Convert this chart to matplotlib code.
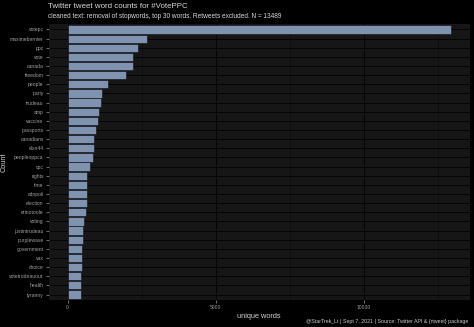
import matplotlib
matplotlib.use("Agg")
import matplotlib.pyplot as plt
from matplotlib.ticker import FixedLocator

words = ["votepc", "maximebernier", "ppc", "vote", "canada", "freedom", "people", "party",
         "trudeau", "amp", "vaccine", "passports", "canadians", "elxn44", "peopleoppca", "cpc",
         "rights", "time", "cdnpoli", "election", "erinotoole", "voting", "justintrudeau",
         "purplewave", "government", "vax", "choice", "votetrudeauout", "health", "tyranny"]
counts = [12930, 2663, 2370, 2212, 2190, 1976, 1370, 1146, 1123, 1066, 1011, 954, 898, 877,
          865, 752, 662, 662, 640, 640, 617, 561, 516, 516, 494, 494, 482, 460, 460, 438]
x_ticks = [0, 5000, 10000]

plt.rcParams['font.family'] = ['Liberation Sans', 'DejaVu Sans']

W, H = 474, 327
fig = plt.figure(figsize=(W / 100, H / 100), dpi=100, facecolor='black')
left, right, top, bottom = 48.5, 470, 24, 300
ax = fig.add_axes([left / W, (H - bottom) / H, (right - left) / W, (bottom - top) / H])
ax.set_facecolor('#161616')

n = len(words)
ypos = list(range(n))[::-1]
ax.barh(ypos, counts, height=0.9, color='#7f92b0', edgecolor='#0d0d0d', linewidth=0.4, zorder=3)

xmax = max(counts)
ax.set_xlim(-0.05 * xmax, 1.05 * xmax)
ax.set_ylim(-0.6, n - 1 + 0.6)
ax.set_yticks(ypos)
ax.set_yticklabels(words)
ax.xaxis.set_major_locator(FixedLocator(x_ticks))
ax.xaxis.set_minor_locator(FixedLocator([2500, 7500, 12500]))
ax.grid(True, which='major', axis='both', color='#050505', linewidth=0.7, zorder=0)
ax.grid(True, which='minor', axis='x', color='#0a0a0a', linewidth=0.4, zorder=0)
for s in ax.spines.values():
    s.set_visible(False)
ax.tick_params(axis='both', which='major', colors='#9a9a9a', labelcolor='#a0a0a0',
               labelsize=3.6, length=2, width=0.5, pad=1.5)
ax.tick_params(axis='both', which='minor', length=0)

ax.set_xlabel('unique words', color='#d0d0d0', fontsize=5.3)
ax.xaxis.set_label_coords(0.5, -(313 - bottom) / (bottom - top))
ax.set_ylabel('Count', color='#d0d0d0', fontsize=5.3)
ax.yaxis.set_label_coords(-(left - 8) / (right - left), 0.5)

fig.text(left / W, 1 - 6.5 / H, 'Twitter tweet word counts for #VotePPC', color='#d8d8d8',
         fontsize=5.7, ha='left', va='center')
fig.text(left / W, 1 - 16.5 / H,
         'cleaned text: removal of stopwords, top 30 words. Retweets excluded. N = 13489',
         color='#d8d8d8', fontsize=4.7, ha='left', va='center')
fig.text(468 / W, 1 - 321 / H,
         '@StarTrek_Lt | Sept 7, 2021 | Source: Twitter API & {rtweet} package',
         color='#c8c8c8', fontsize=3.8, ha='right', va='center')

fig.savefig('out.png', dpi=100, facecolor='black')
